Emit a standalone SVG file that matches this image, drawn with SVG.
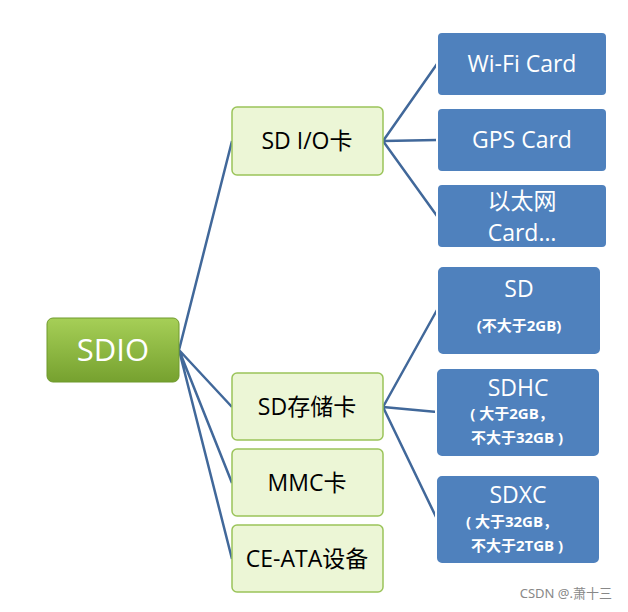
<svg xmlns="http://www.w3.org/2000/svg" width="628" height="612" viewBox="0 0 628 612">
<style>
.g{fill:#ecf6d6;stroke:#9bc45a;stroke-width:1.5}
.b{fill:#4f81bd;stroke:#fff;stroke-width:2}
.t{font-family:"Open Sans","Noto Sans CJK SC",sans-serif;text-anchor:middle}
.lt{font-size:23px;fill:#000}
.wt{font-size:23px;fill:#fff}
.st{font-size:15px;fill:#fff;font-weight:bold}
.c{stroke:#41689a;stroke-width:2.5;fill:none}
</style>
<defs>
<linearGradient id="gg" x1="0" y1="0" x2="0" y2="1"><stop offset="0" stop-color="#a6cf57"/><stop offset="1" stop-color="#76a12f"/></linearGradient>
</defs>
<rect width="628" height="612" fill="#fff"/>
<g id="connectors" class="c">
<path d="M179 350L232 141M179 350L232 407M179 350L232 483M179 350L232 559"/>
<path d="M383 141L437 64M383 141L437 140M383 141L437 216"/>
<path d="M383 407L437 310M383 407L437 412M383 407L437 519"/>
</g>
<g id="sdio"><rect x="47" y="318" width="132" height="64" rx="6" fill="url(#gg)" stroke="#6f9a2c"/><text class="t" x="113" y="361" font-size="31" fill="#fff">SDIO</text></g>
<g id="sdio-card"><rect class="g" x="232" y="107" width="151" height="68" rx="5"/><text class="t lt" x="307" y="149">SD I/O卡</text></g>
<g id="sd-storage"><rect class="g" x="232" y="373" width="151" height="67" rx="5"/><text class="t lt" x="307" y="415">SD存储卡</text></g>
<g id="mmc"><rect class="g" x="232" y="449" width="151" height="67" rx="5"/><text class="t lt" x="307" y="491">MMC卡</text></g>
<g id="ceata"><rect class="g" x="232" y="525" width="151" height="67" rx="5"/><text class="t lt" x="307" y="567">CE-ATA设备</text></g>
<g id="wifi"><rect class="b" x="437" y="32" width="170" height="64" rx="5"/><text class="t wt" x="522" y="72">Wi-Fi Card</text></g>
<g id="gps"><rect class="b" x="437" y="108" width="170" height="64" rx="5"/><text class="t wt" x="522" y="148">GPS Card</text></g>
<g id="eth"><rect class="b" x="437" y="184" width="170" height="64" rx="5"/><text class="t wt" x="522" y="209">以太网</text><text class="t wt" x="522" y="241">Card…</text></g>
<g id="sd"><rect class="b" x="437" y="266" width="164" height="89" rx="6"/><text class="t wt" x="519" y="297">SD</text><text class="t st" x="519" y="331">(不大于2GB)</text></g>
<g id="sdhc"><rect class="b" x="436" y="368" width="164" height="89" rx="6"/><text class="t wt" x="518" y="396">SDHC</text><text class="t st" x="512" y="419">( 大于2GB，</text><text class="t st" x="517" y="443">不大于32GB )</text></g>
<g id="sdxc"><rect class="b" x="436" y="475" width="164" height="89" rx="6"/><text class="t wt" x="518" y="503">SDXC</text><text class="t st" x="512" y="527">( 大于32GB，</text><text class="t st" x="517" y="551">不大于2TGB )</text></g>
<text x="612" y="598" font-family="'Noto Sans','Noto Sans CJK SC',sans-serif" font-size="13" fill="#888" text-anchor="end">CSDN @.萧十三</text>
</svg>
